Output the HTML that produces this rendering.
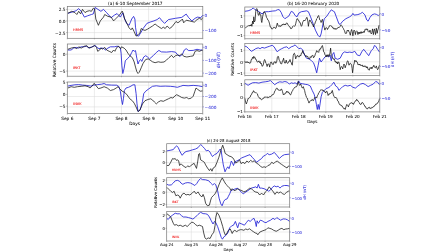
<!DOCTYPE html>
<html><head><meta charset="utf-8"><style>html,body{margin:0;padding:0;background:#fff;overflow:hidden}svg{display:block}</style></head>
<body><svg width="448" height="252" viewBox="0 0 448 252" font-family='"DejaVu Sans","Liberation Sans",sans-serif' text-rendering="geometricPrecision"><line x1="94.40" y1="6.50" x2="94.40" y2="38.30" stroke="#d8d8d8" stroke-width="0.5"/>
<line x1="121.50" y1="6.50" x2="121.50" y2="38.30" stroke="#d8d8d8" stroke-width="0.5"/>
<line x1="148.60" y1="6.50" x2="148.60" y2="38.30" stroke="#d8d8d8" stroke-width="0.5"/>
<line x1="175.70" y1="6.50" x2="175.70" y2="38.30" stroke="#d8d8d8" stroke-width="0.5"/>
<line x1="67.30" y1="9.40" x2="202.80" y2="9.40" stroke="#d8d8d8" stroke-width="0.5"/>
<line x1="67.30" y1="20.90" x2="202.80" y2="20.90" stroke="#d8d8d8" stroke-width="0.5"/>
<line x1="67.30" y1="32.60" x2="202.80" y2="32.60" stroke="#d8d8d8" stroke-width="0.5"/>
<polyline points="67.9,13.3 72.3,12.0 76.2,10.7 78.7,8.6 81.2,11.3 84.4,17.1 87.6,15.8 91.4,14.5 93.3,13.9 95.2,7.5 99.0,10.1 100.9,11.3 103.5,9.4 106.6,12.6 111.1,17.7 114.3,15.2 117.1,13.6 120.3,17.1 122.8,12.9 124.1,17.7 126.6,23.4 129.1,25.3 131.7,19.0 133.6,16.4 134.9,19.0 135.5,27.2 136.8,35.5 138.7,36.1 140.6,32.9 141.8,31.0 143.1,28.5 145.0,26.0 146.9,23.4 150.1,22.1 153.9,20.9 157.1,19.6 159.5,17.7 162.1,20.9 164.6,23.4 168.4,19.6 175.4,18.3 181.7,17.4 186.2,14.1 188.7,17.7 191.9,20.9 195.1,18.3 197.6,17.1 200.8,17.7 202.7,15.2" fill="none" stroke="#2222d6" stroke-width="0.85" stroke-linejoin="round"/>
<polyline points="67.9,13.3 71.7,11.3 74.9,12.6 76.8,14.5 78.7,11.3 80.6,13.9 82.5,9.4 85.0,12.6 87.0,11.3 89.5,10.7 91.4,11.3 93.3,8.2 94.6,8.8 95.8,19.0 98.4,25.3 100.3,20.9 103.5,17.1 104.7,14.5 107.9,16.4 111.1,17.1 113.6,20.9 116.2,18.3 119.3,15.2 122.2,11.1 123.4,13.9 124.7,19.0 127.2,24.0 129.1,27.9 131.0,29.8 132.3,27.9 134.2,31.7 136.1,36.1 138.0,34.8 139.9,32.9 141.2,28.5 143.1,29.8 145.0,30.4 147.6,29.1 149.5,27.9 152.5,26.0 155.1,24.0 157.6,26.0 161.4,28.5 163.3,27.2 165.2,28.5 167.1,26.0 169.7,28.5 172.2,26.6 174.1,24.0 176.0,21.5 177.9,22.8 180.5,20.9 182.4,19.0 183.7,22.8 186.2,20.2 189.4,20.9 191.9,21.5 194.4,22.1 197.0,19.6 199.5,18.3 201.4,19.6 202.7,17.7" fill="none" stroke="#111111" stroke-width="0.75" stroke-linejoin="round"/>
<rect x="67.30" y="6.50" width="135.50" height="31.80" fill="none" stroke="#777777" stroke-width="0.7"/>
<line x1="66.10" y1="9.40" x2="67.30" y2="9.40" stroke="#777777" stroke-width="0.5"/>
<text x="65.50" y="11.00" font-size="4.3" fill="#000" stroke="#000" stroke-width="0.04" text-anchor="end" >2.5</text>
<line x1="66.10" y1="20.90" x2="67.30" y2="20.90" stroke="#777777" stroke-width="0.5"/>
<text x="65.50" y="23.00" font-size="4.3" fill="#000" stroke="#000" stroke-width="0.04" text-anchor="end" >0.0</text>
<line x1="66.10" y1="32.60" x2="67.30" y2="32.60" stroke="#777777" stroke-width="0.5"/>
<text x="65.50" y="35.00" font-size="4.3" fill="#000" stroke="#000" stroke-width="0.04" text-anchor="end" >−2.5</text>
<line x1="202.80" y1="15.50" x2="204.00" y2="15.50" stroke="#5050d0" stroke-width="0.5"/>
<text x="204.60" y="17.00" font-size="4.3" fill="#2a2ad8" stroke="#2a2ad8" stroke-width="0.04" text-anchor="start" >0</text>
<line x1="202.80" y1="30.50" x2="204.00" y2="30.50" stroke="#5050d0" stroke-width="0.5"/>
<text x="204.60" y="32.00" font-size="4.3" fill="#2a2ad8" stroke="#2a2ad8" stroke-width="0.04" text-anchor="start" >−100</text>
<line x1="67.30" y1="38.30" x2="67.30" y2="39.30" stroke="#777777" stroke-width="0.5"/>
<line x1="94.40" y1="38.30" x2="94.40" y2="39.30" stroke="#777777" stroke-width="0.5"/>
<line x1="121.50" y1="38.30" x2="121.50" y2="39.30" stroke="#777777" stroke-width="0.5"/>
<line x1="148.60" y1="38.30" x2="148.60" y2="39.30" stroke="#777777" stroke-width="0.5"/>
<line x1="175.70" y1="38.30" x2="175.70" y2="39.30" stroke="#777777" stroke-width="0.5"/>
<line x1="202.80" y1="38.30" x2="202.80" y2="39.30" stroke="#777777" stroke-width="0.5"/>
<text x="73.00" y="31.00" font-size="3.5" fill="#ee0000" stroke="#ee0000" stroke-width="0.04" text-anchor="start" >HRMS</text>
<line x1="94.40" y1="44.00" x2="94.40" y2="76.20" stroke="#d8d8d8" stroke-width="0.5"/>
<line x1="121.50" y1="44.00" x2="121.50" y2="76.20" stroke="#d8d8d8" stroke-width="0.5"/>
<line x1="148.60" y1="44.00" x2="148.60" y2="76.20" stroke="#d8d8d8" stroke-width="0.5"/>
<line x1="175.70" y1="44.00" x2="175.70" y2="76.20" stroke="#d8d8d8" stroke-width="0.5"/>
<line x1="67.30" y1="54.20" x2="202.80" y2="54.20" stroke="#d8d8d8" stroke-width="0.5"/>
<line x1="67.30" y1="71.10" x2="202.80" y2="71.10" stroke="#d8d8d8" stroke-width="0.5"/>
<polyline points="67.9,50.0 71.1,50.0 73.6,48.1 76.2,47.4 78.7,48.1 81.2,46.8 83.8,46.8 86.3,46.2 88.9,47.8 91.4,47.1 95.2,45.5 97.1,47.4 99.0,48.7 100.9,48.1 103.5,48.3 105.4,50.0 107.9,48.1 110.4,46.8 114.3,46.8 117.1,46.2 119.0,46.8 120.3,48.1 121.1,53.2 121.9,65.9 122.8,73.5 124.1,68.4 125.3,60.8 127.2,58.9 129.8,56.3 131.7,52.5 133.0,50.0 134.2,51.3 135.5,50.6 136.8,58.2 138.0,64.0 139.3,60.8 140.6,59.5 141.8,61.4 143.7,57.0 145.7,55.7 147.6,57.0 149.5,58.9 153.2,55.7 156.3,52.5 158.9,50.4 161.4,51.9 166.5,52.1 171.6,51.6 175.4,52.1 177.3,54.4 179.8,56.3 182.4,54.4 184.3,50.0 186.2,48.7 188.7,50.6 193.2,50.4 197.0,49.3 200.2,50.0 202.7,50.0" fill="none" stroke="#2222d6" stroke-width="0.85" stroke-linejoin="round"/>
<polyline points="67.9,49.3 71.1,48.1 74.3,47.4 76.8,48.7 78.7,46.8 81.2,48.1 84.4,46.2 87.0,45.8 88.9,48.1 91.4,47.4 94.6,45.5 96.5,47.4 97.7,51.3 99.7,50.0 100.9,48.1 102.8,49.1 104.7,47.4 106.6,50.0 109.2,51.3 111.7,52.5 113.6,50.0 114.9,51.3 116.8,47.4 118.7,46.2 120.6,48.7 121.5,46.8 124.1,48.1 126.0,50.0 127.9,53.2 129.8,55.7 132.3,57.6 134.2,62.0 135.5,67.1 136.8,71.6 138.0,73.5 139.3,72.2 141.2,67.8 143.1,63.3 145.7,59.5 148.2,58.9 150.1,60.1 152.5,61.8 155.1,62.7 158.3,61.8 160.8,62.3 164.0,62.0 166.5,60.1 169.0,57.6 171.6,55.4 173.5,57.6 175.4,55.7 177.3,55.1 179.8,55.7 181.7,53.8 183.7,56.3 186.8,57.0 190.6,56.3 193.2,55.9 195.1,51.3 197.0,50.6 199.5,51.3 201.4,50.4 202.7,50.6" fill="none" stroke="#111111" stroke-width="0.75" stroke-linejoin="round"/>
<rect x="67.30" y="44.00" width="135.50" height="32.20" fill="none" stroke="#777777" stroke-width="0.7"/>
<line x1="66.10" y1="54.20" x2="67.30" y2="54.20" stroke="#777777" stroke-width="0.5"/>
<text x="65.50" y="56.00" font-size="4.3" fill="#000" stroke="#000" stroke-width="0.04" text-anchor="end" >0</text>
<line x1="66.10" y1="71.10" x2="67.30" y2="71.10" stroke="#777777" stroke-width="0.5"/>
<text x="65.50" y="73.00" font-size="4.3" fill="#000" stroke="#000" stroke-width="0.04" text-anchor="end" >−5</text>
<line x1="202.80" y1="47.30" x2="204.00" y2="47.30" stroke="#5050d0" stroke-width="0.5"/>
<text x="204.60" y="49.00" font-size="4.3" fill="#2a2ad8" stroke="#2a2ad8" stroke-width="0.04" text-anchor="start" >0</text>
<line x1="202.80" y1="60.40" x2="204.00" y2="60.40" stroke="#5050d0" stroke-width="0.5"/>
<text x="204.60" y="62.00" font-size="4.3" fill="#2a2ad8" stroke="#2a2ad8" stroke-width="0.04" text-anchor="start" >−100</text>
<line x1="202.80" y1="73.10" x2="204.00" y2="73.10" stroke="#5050d0" stroke-width="0.5"/>
<text x="204.60" y="75.00" font-size="4.3" fill="#2a2ad8" stroke="#2a2ad8" stroke-width="0.04" text-anchor="start" >−200</text>
<line x1="67.30" y1="76.20" x2="67.30" y2="77.20" stroke="#777777" stroke-width="0.5"/>
<line x1="94.40" y1="76.20" x2="94.40" y2="77.20" stroke="#777777" stroke-width="0.5"/>
<line x1="121.50" y1="76.20" x2="121.50" y2="77.20" stroke="#777777" stroke-width="0.5"/>
<line x1="148.60" y1="76.20" x2="148.60" y2="77.20" stroke="#777777" stroke-width="0.5"/>
<line x1="175.70" y1="76.20" x2="175.70" y2="77.20" stroke="#777777" stroke-width="0.5"/>
<line x1="202.80" y1="76.20" x2="202.80" y2="77.20" stroke="#777777" stroke-width="0.5"/>
<text x="72.90" y="69.00" font-size="3.5" fill="#ee0000" stroke="#ee0000" stroke-width="0.04" text-anchor="start" >IRKT</text>
<line x1="94.40" y1="82.00" x2="94.40" y2="113.60" stroke="#d8d8d8" stroke-width="0.5"/>
<line x1="121.50" y1="82.00" x2="121.50" y2="113.60" stroke="#d8d8d8" stroke-width="0.5"/>
<line x1="148.60" y1="82.00" x2="148.60" y2="113.60" stroke="#d8d8d8" stroke-width="0.5"/>
<line x1="175.70" y1="82.00" x2="175.70" y2="113.60" stroke="#d8d8d8" stroke-width="0.5"/>
<line x1="67.30" y1="85.20" x2="202.80" y2="85.20" stroke="#d8d8d8" stroke-width="0.5"/>
<line x1="67.30" y1="96.50" x2="202.80" y2="96.50" stroke="#d8d8d8" stroke-width="0.5"/>
<line x1="67.30" y1="106.90" x2="202.80" y2="106.90" stroke="#d8d8d8" stroke-width="0.5"/>
<polyline points="67.9,86.1 71.1,85.4 74.9,84.8 78.7,84.6 82.5,85.1 86.3,85.4 90.8,86.1 93.9,85.1 97.7,84.6 101.6,84.2 104.1,83.5 106.6,84.8 111.7,85.1 116.8,85.2 119.0,86.7 120.3,91.2 121.5,99.4 122.5,104.5 123.4,98.8 124.4,90.5 126.0,88.0 128.5,87.3 131.0,86.1 133.0,84.8 134.9,84.8 136.1,93.7 137.0,103.9 138.0,111.5 139.9,110.2 141.2,106.4 142.5,101.3 143.7,93.7 145.7,91.2 148.2,89.3 150.0,88.0 152.5,86.3 156.3,85.8 160.2,86.3 165.2,86.1 170.3,86.3 174.1,86.7 177.3,87.3 180.5,86.3 183.0,85.4 188.1,85.8 193.2,85.4 198.3,85.8 202.7,86.7" fill="none" stroke="#2222d6" stroke-width="0.85" stroke-linejoin="round"/>
<polyline points="67.9,88.0 71.1,86.7 74.3,87.3 77.4,86.7 81.2,86.3 85.0,85.8 88.2,86.7 90.1,88.0 92.0,86.1 94.2,83.3 95.8,85.4 98.4,88.6 100.9,88.0 104.1,86.7 107.3,88.0 110.4,90.5 113.6,89.6 116.2,88.0 118.1,86.7 119.6,88.6 122.2,91.2 124.7,92.4 127.2,95.0 129.8,98.8 132.3,100.7 134.2,103.2 136.1,107.0 138.0,111.5 139.9,110.2 142.5,103.9 145.0,100.7 148.2,99.4 150.7,98.8 152.5,100.0 154.4,102.0 156.3,103.9 158.3,102.0 160.8,100.7 163.3,101.3 165.9,100.0 168.4,98.8 171.0,97.5 172.9,98.1 174.8,96.0 176.7,94.7 179.2,96.0 181.7,97.5 184.3,98.1 186.8,97.5 188.7,98.8 191.3,98.1 193.2,96.2 194.7,91.8 196.0,88.0 197.6,89.3 200.2,91.2 202.7,90.9" fill="none" stroke="#111111" stroke-width="0.75" stroke-linejoin="round"/>
<rect x="67.30" y="82.00" width="135.50" height="31.60" fill="none" stroke="#777777" stroke-width="0.7"/>
<line x1="66.10" y1="82.30" x2="67.30" y2="82.30" stroke="#777777" stroke-width="0.5"/>
<text x="65.50" y="84.00" font-size="4.3" fill="#000" stroke="#000" stroke-width="0.04" text-anchor="end" >5</text>
<line x1="66.10" y1="94.40" x2="67.30" y2="94.40" stroke="#777777" stroke-width="0.5"/>
<text x="65.50" y="96.00" font-size="4.3" fill="#000" stroke="#000" stroke-width="0.04" text-anchor="end" >0</text>
<line x1="66.10" y1="106.20" x2="67.30" y2="106.20" stroke="#777777" stroke-width="0.5"/>
<text x="65.50" y="108.00" font-size="4.3" fill="#000" stroke="#000" stroke-width="0.04" text-anchor="end" >−5</text>
<line x1="202.80" y1="85.20" x2="204.00" y2="85.20" stroke="#5050d0" stroke-width="0.5"/>
<text x="204.60" y="87.00" font-size="4.3" fill="#2a2ad8" stroke="#2a2ad8" stroke-width="0.04" text-anchor="start" >0</text>
<line x1="202.80" y1="96.50" x2="204.00" y2="96.50" stroke="#5050d0" stroke-width="0.5"/>
<text x="204.60" y="98.00" font-size="4.3" fill="#2a2ad8" stroke="#2a2ad8" stroke-width="0.04" text-anchor="start" >−200</text>
<line x1="202.80" y1="106.90" x2="204.00" y2="106.90" stroke="#5050d0" stroke-width="0.5"/>
<text x="204.60" y="109.00" font-size="4.3" fill="#2a2ad8" stroke="#2a2ad8" stroke-width="0.04" text-anchor="start" >−400</text>
<line x1="67.30" y1="113.60" x2="67.30" y2="114.60" stroke="#777777" stroke-width="0.5"/>
<line x1="94.40" y1="113.60" x2="94.40" y2="114.60" stroke="#777777" stroke-width="0.5"/>
<line x1="121.50" y1="113.60" x2="121.50" y2="114.60" stroke="#777777" stroke-width="0.5"/>
<line x1="148.60" y1="113.60" x2="148.60" y2="114.60" stroke="#777777" stroke-width="0.5"/>
<line x1="175.70" y1="113.60" x2="175.70" y2="114.60" stroke="#777777" stroke-width="0.5"/>
<line x1="202.80" y1="113.60" x2="202.80" y2="114.60" stroke="#777777" stroke-width="0.5"/>
<text x="73.20" y="105.00" font-size="3.5" fill="#ee0000" stroke="#ee0000" stroke-width="0.04" text-anchor="start" >INVK</text>
<text x="67.30" y="120.00" font-size="4.3" fill="#000" stroke="#000" stroke-width="0.04" text-anchor="middle" >Sep 6</text>
<text x="94.40" y="120.00" font-size="4.3" fill="#000" stroke="#000" stroke-width="0.04" text-anchor="middle" >Sep 7</text>
<text x="121.50" y="120.00" font-size="4.3" fill="#000" stroke="#000" stroke-width="0.04" text-anchor="middle" >Sep 8</text>
<text x="148.60" y="120.00" font-size="4.3" fill="#000" stroke="#000" stroke-width="0.04" text-anchor="middle" >Sep 9</text>
<text x="175.70" y="120.00" font-size="4.3" fill="#000" stroke="#000" stroke-width="0.04" text-anchor="middle" >Sep 10</text>
<text x="202.80" y="120.00" font-size="4.3" fill="#000" stroke="#000" stroke-width="0.04" text-anchor="middle" >Sep 11</text>
<text x="135.35" y="5.00" font-size="4.3" fill="#000" stroke="#000" stroke-width="0.04" text-anchor="middle" >(a) 6-10 September 2017</text>
<text x="134.60" y="125.00" font-size="4.3" fill="#000" stroke="#000" stroke-width="0.04" text-anchor="middle" >Days</text>
<text x="0" y="0" transform="translate(55.20,60.10) rotate(-90)" font-size="4.386" fill="#000" stroke="#000" stroke-width="0.04" text-anchor="middle" dominant-baseline="central" >Relative Counts</text>
<text x="0" y="0" transform="translate(219.20,60.10) rotate(-90)" font-size="4.386" fill="#2a2ad8" stroke="#2a2ad8" stroke-width="0.04" text-anchor="middle" dominant-baseline="central" >dH (nT)</text>
<line x1="271.80" y1="7.00" x2="271.80" y2="38.80" stroke="#d8d8d8" stroke-width="0.5"/>
<line x1="298.80" y1="7.00" x2="298.80" y2="38.80" stroke="#d8d8d8" stroke-width="0.5"/>
<line x1="325.80" y1="7.00" x2="325.80" y2="38.80" stroke="#d8d8d8" stroke-width="0.5"/>
<line x1="352.80" y1="7.00" x2="352.80" y2="38.80" stroke="#d8d8d8" stroke-width="0.5"/>
<line x1="244.80" y1="15.90" x2="379.80" y2="15.90" stroke="#d8d8d8" stroke-width="0.5"/>
<line x1="244.80" y1="25.90" x2="379.80" y2="25.90" stroke="#d8d8d8" stroke-width="0.5"/>
<line x1="244.80" y1="35.60" x2="379.80" y2="35.60" stroke="#d8d8d8" stroke-width="0.5"/>
<polyline points="244.9,11.3 248.1,10.8 251.3,9.6 253.2,7.9 255.1,9.8 257.0,10.4 259.5,12.1 262.0,13.9 264.0,12.3 265.9,11.7 268.4,11.7 272.2,11.1 275.4,10.8 277.3,9.8 279.2,9.6 281.1,12.3 283.0,16.8 284.9,18.7 286.8,17.4 288.7,16.2 291.3,11.3 293.2,12.3 295.1,15.5 297.0,16.8 298.9,13.0 301.4,11.7 304.0,11.3 306.5,10.8 308.4,11.7 310.3,16.2 312.9,23.1 315.4,30.1 317.9,35.2 319.8,37.1 321.1,33.9 322.8,25.0 324.3,18.7 326.8,16.2 329.4,12.3 331.3,9.8 333.2,11.1 334.4,11.7 336.3,16.8 338.9,23.8 340.2,24.4 342.7,21.2 345.9,18.7 349.7,16.8 351.6,15.5 352.9,13.4 354.1,15.1 357.9,14.6 360.5,13.6 362.4,12.3 364.9,14.9 366.8,20.0 368.1,21.2 370.0,17.4 371.9,14.9 374.4,13.9 376.3,14.3 378.3,15.5 379.5,14.6" fill="none" stroke="#2222d6" stroke-width="0.85" stroke-linejoin="round"/>
<polyline points="244.9,28.2 245.5,27.7 246.2,27.2 246.8,26.8 247.4,26.3 248.1,26.0 248.7,25.6 249.3,26.0 250.0,25.0 250.6,26.0 251.3,24.3 251.9,26.3 252.6,21.0 253.2,24.0 253.8,16.8 254.4,22.0 255.1,20.6 255.7,11.7 256.2,9.2 256.7,8.5 257.1,8.9 257.6,11.1 258.2,14.9 258.9,15.4 259.5,12.3 260.1,14.8 260.8,14.9 261.3,20.3 261.8,22.5 262.7,16.2 263.4,13.5 264.0,11.7 264.6,11.8 265.2,13.0 265.9,14.9 266.5,17.4 267.1,18.1 267.8,20.0 268.4,20.3 269.0,21.9 269.6,23.9 270.3,27.0 270.9,27.0 271.6,28.9 272.2,28.9 272.8,28.7 273.5,27.4 274.1,27.6 274.7,27.3 275.4,28.4 276.0,28.2 276.6,25.9 277.3,23.1 278.0,25.4 278.6,26.3 279.2,26.6 279.9,25.4 280.5,26.5 281.1,25.7 281.7,25.8 282.4,24.0 283.0,24.7 283.6,23.8 284.2,24.9 284.9,24.1 285.5,25.0 286.1,23.3 286.8,23.1 287.4,23.3 288.1,25.1 288.7,25.7 289.4,26.7 290.0,26.8 290.6,28.6 291.3,28.6 291.9,28.3 292.6,26.5 293.2,26.3 293.8,25.7 294.5,26.4 295.1,25.7 295.7,23.8 296.4,20.6 297.0,18.7 297.6,18.8 298.3,20.5 298.9,20.6 299.5,22.3 300.2,22.5 300.8,25.0 301.4,26.3 302.0,25.3 302.7,22.2 303.3,21.2 303.9,20.1 304.6,21.0 305.2,20.0 305.8,19.5 306.5,17.6 307.1,17.4 307.8,21.1 308.4,26.3 309.0,22.4 309.7,20.0 310.3,20.3 311.0,22.3 311.6,22.5 312.2,24.4 312.9,24.8 313.5,27.0 314.1,24.8 314.8,24.0 315.4,21.9 316.0,20.9 316.7,18.7 317.3,18.1 318.0,16.1 318.6,15.5 319.2,17.5 319.8,20.0 320.5,20.6 321.1,22.5 321.8,20.4 322.4,19.3 323.0,22.2 323.7,25.7 324.3,27.5 324.9,30.1 325.5,28.2 326.2,27.6 326.9,27.9 327.5,29.5 328.1,28.0 328.8,27.5 329.4,25.7 330.0,26.2 330.7,25.5 331.3,26.3 331.9,26.3 332.6,27.9 333.2,27.6 333.8,29.0 334.5,28.4 335.1,29.5 335.7,28.4 336.4,29.3 337.0,28.2 337.6,28.2 338.2,27.3 338.9,27.7 339.5,27.0 340.1,26.7 340.6,25.2 341.2,25.0 341.9,25.7 342.7,27.6 343.3,28.3 344.0,30.0 344.6,30.8 345.2,33.4 345.9,33.3 346.5,33.3 347.2,30.2 347.8,30.8 348.4,30.0 349.0,32.0 349.6,32.7 350.3,35.2 351.0,31.4 351.6,29.5 352.2,31.6 352.9,35.8 353.5,31.8 354.1,30.1 354.8,31.3 355.4,34.6 356.0,31.6 356.7,30.8 357.3,31.6 357.9,34.6 358.5,32.3 359.2,33.9 359.8,32.0 360.4,33.4 361.1,31.6 361.7,33.3 362.4,31.9 363.0,32.8 363.7,31.4 364.3,32.4 365.0,29.5 365.6,30.1 366.2,28.7 366.9,29.8 367.5,28.9 368.1,31.4 368.7,32.0 369.4,32.1 370.0,30.1 370.6,32.5 371.3,33.9 371.9,32.5 372.5,28.9 373.4,34.6 373.9,30.6 374.4,28.9 374.9,31.2 375.5,34.6 376.3,28.2 377.2,33.3 377.8,30.0 378.3,28.9 378.9,25.7 379.5,25.0" fill="none" stroke="#111111" stroke-width="0.75" stroke-linejoin="round"/>
<rect x="244.80" y="7.00" width="135.00" height="31.80" fill="none" stroke="#777777" stroke-width="0.7"/>
<line x1="243.60" y1="15.90" x2="244.80" y2="15.90" stroke="#777777" stroke-width="0.5"/>
<text x="243.00" y="18.00" font-size="4.15" fill="#000" stroke="#000" stroke-width="0.04" text-anchor="end" >1</text>
<line x1="243.60" y1="25.90" x2="244.80" y2="25.90" stroke="#777777" stroke-width="0.5"/>
<text x="243.00" y="28.00" font-size="4.15" fill="#000" stroke="#000" stroke-width="0.04" text-anchor="end" >0</text>
<line x1="243.60" y1="35.60" x2="244.80" y2="35.60" stroke="#777777" stroke-width="0.5"/>
<text x="243.00" y="37.00" font-size="4.15" fill="#000" stroke="#000" stroke-width="0.04" text-anchor="end" >−1</text>
<line x1="379.80" y1="13.70" x2="381.00" y2="13.70" stroke="#5050d0" stroke-width="0.5"/>
<text x="381.60" y="16.00" font-size="4.15" fill="#2a2ad8" stroke="#2a2ad8" stroke-width="0.04" text-anchor="start" >0</text>
<line x1="379.80" y1="29.90" x2="381.00" y2="29.90" stroke="#5050d0" stroke-width="0.5"/>
<text x="381.60" y="32.00" font-size="4.15" fill="#2a2ad8" stroke="#2a2ad8" stroke-width="0.04" text-anchor="start" >−50</text>
<line x1="244.80" y1="38.80" x2="244.80" y2="39.80" stroke="#777777" stroke-width="0.5"/>
<line x1="271.80" y1="38.80" x2="271.80" y2="39.80" stroke="#777777" stroke-width="0.5"/>
<line x1="298.80" y1="38.80" x2="298.80" y2="39.80" stroke="#777777" stroke-width="0.5"/>
<line x1="325.80" y1="38.80" x2="325.80" y2="39.80" stroke="#777777" stroke-width="0.5"/>
<line x1="352.80" y1="38.80" x2="352.80" y2="39.80" stroke="#777777" stroke-width="0.5"/>
<line x1="379.80" y1="38.80" x2="379.80" y2="39.80" stroke="#777777" stroke-width="0.5"/>
<text x="250.00" y="34.00" font-size="3.5" fill="#ee0000" stroke="#ee0000" stroke-width="0.04" text-anchor="start" >HRMS</text>
<line x1="271.80" y1="43.40" x2="271.80" y2="75.40" stroke="#d8d8d8" stroke-width="0.5"/>
<line x1="298.80" y1="43.40" x2="298.80" y2="75.40" stroke="#d8d8d8" stroke-width="0.5"/>
<line x1="325.80" y1="43.40" x2="325.80" y2="75.40" stroke="#d8d8d8" stroke-width="0.5"/>
<line x1="352.80" y1="43.40" x2="352.80" y2="75.40" stroke="#d8d8d8" stroke-width="0.5"/>
<line x1="244.80" y1="50.30" x2="379.80" y2="50.30" stroke="#d8d8d8" stroke-width="0.5"/>
<line x1="244.80" y1="61.80" x2="379.80" y2="61.80" stroke="#d8d8d8" stroke-width="0.5"/>
<line x1="244.80" y1="73.10" x2="379.80" y2="73.10" stroke="#d8d8d8" stroke-width="0.5"/>
<polyline points="244.9,46.2 246.8,46.8 248.7,48.7 251.3,51.3 253.2,50.4 255.7,48.7 258.2,47.8 260.1,48.7 262.0,47.4 264.6,48.1 267.1,47.1 269.7,46.2 272.2,45.3 274.1,46.8 276.0,50.0 277.3,51.9 279.2,50.0 281.7,48.7 284.3,47.4 286.8,46.8 288.7,48.7 291.3,46.8 293.2,46.2 295.1,44.9 297.0,46.8 298.9,48.7 300.8,48.1 302.7,50.0 304.6,55.1 306.5,58.2 309.0,58.9 311.6,60.8 313.5,62.7 315.1,67.1 316.7,72.8 318.2,65.2 319.5,58.2 321.1,62.0 323.0,59.5 324.9,57.0 326.8,55.7 328.7,57.0 330.0,55.1 331.3,60.8 332.5,54.4 333.8,52.5 335.1,58.2 337.6,59.3 340.2,58.2 342.7,53.2 344.6,51.9 347.1,52.5 349.7,52.1 352.2,52.5 354.8,51.3 357.3,55.1 359.8,55.7 361.7,51.9 363.7,49.3 366.2,52.5 368.7,55.7 371.3,50.6 373.2,48.7 374.4,45.5 375.7,46.2 377.6,49.3 379.5,52.1" fill="none" stroke="#2222d6" stroke-width="0.85" stroke-linejoin="round"/>
<polyline points="244.9,61.4 245.5,62.5 246.2,61.7 246.8,62.7 247.4,61.7 248.1,62.8 248.7,62.0 249.3,63.2 250.0,63.3 250.6,62.8 251.3,59.5 251.9,59.5 252.5,57.3 253.2,58.5 253.8,56.3 254.4,58.0 255.1,57.5 255.7,59.5 256.3,59.6 257.0,61.8 257.6,62.0 258.2,61.9 258.9,60.8 259.5,62.5 260.2,61.6 260.8,64.0 261.4,63.4 262.1,66.4 262.7,65.9 263.3,64.9 264.0,61.0 264.6,59.5 265.2,60.7 265.9,63.3 266.5,63.9 267.1,66.5 267.8,64.1 268.4,64.0 269.0,64.3 269.7,67.1 270.3,63.3 270.9,62.0 271.5,62.1 272.2,64.3 272.8,64.0 273.4,64.4 274.1,61.8 274.7,62.0 275.2,61.6 275.8,63.3 276.3,62.7 276.8,61.1 277.4,57.1 277.9,56.3 278.5,56.6 279.2,60.2 279.8,60.8 280.5,63.1 281.1,64.0 281.8,63.7 282.4,60.8 283.0,60.5 283.6,58.2 284.2,62.0 284.9,63.3 285.5,62.9 286.2,60.1 286.8,62.6 287.4,63.3 288.0,63.2 288.7,61.4 289.4,61.4 290.0,59.5 290.6,61.9 291.3,62.7 291.8,64.5 292.3,65.2 293.2,55.7 293.8,53.7 294.4,53.2 295.0,54.9 295.7,58.9 296.4,56.8 297.0,55.7 297.6,55.4 298.3,57.1 298.9,56.3 299.5,56.8 300.2,55.0 300.8,55.7 301.4,53.1 302.1,53.1 302.7,50.6 303.4,53.2 304.0,53.2 304.6,54.8 305.2,55.1 305.8,56.6 306.5,55.7 307.1,57.0 307.7,56.4 308.4,58.5 309.0,58.2 309.7,58.8 310.3,56.7 311.0,57.6 311.6,55.9 312.2,55.7 312.8,55.2 313.5,57.8 314.1,57.0 314.8,55.9 315.4,53.8 316.0,52.7 316.7,50.6 317.4,51.9 318.2,51.9 318.7,52.4 319.3,49.6 319.8,50.0 320.4,48.3 320.9,48.6 321.5,46.8 322.4,45.5 323.0,48.1 323.7,51.9 324.3,52.3 325.0,54.9 325.6,55.7 326.2,57.0 326.9,54.8 327.5,56.3 328.1,54.6 328.8,56.6 329.4,55.1 330.0,52.9 330.6,48.1 331.3,55.7 331.9,56.5 332.5,58.2 333.1,58.1 333.8,59.5 334.4,58.8 335.1,61.9 335.7,61.4 336.3,63.1 337.0,61.8 337.6,64.0 338.2,62.0 338.9,62.0 339.5,64.7 340.2,69.7 340.8,67.4 341.4,66.5 342.0,67.1 342.7,69.0 343.4,65.7 344.0,64.0 344.6,65.3 345.2,67.8 345.9,65.4 346.5,64.6 347.1,61.4 347.8,60.8 348.4,62.3 349.0,65.2 349.6,63.8 350.3,63.3 351.0,63.8 351.6,65.2 352.1,68.4 352.6,72.8 353.5,65.2 354.1,63.8 354.8,60.1 355.4,61.5 356.1,60.7 356.7,62.0 357.3,62.1 358.0,64.7 358.6,64.0 359.2,65.1 359.9,64.0 360.5,65.4 361.1,65.2 361.8,65.9 362.4,64.9 363.1,66.8 363.7,65.9 364.3,66.6 364.9,65.7 365.6,67.2 366.2,66.5 366.8,68.0 367.4,66.8 368.1,69.5 368.7,69.7 369.3,70.2 370.0,67.7 370.6,68.4 371.2,67.1 371.9,68.9 372.5,67.1 373.1,67.0 373.8,65.2 374.5,67.2 375.1,67.8 375.7,67.7 376.3,65.9 377.0,68.3 377.6,69.7 378.2,68.9 378.9,66.5 379.5,65.2" fill="none" stroke="#111111" stroke-width="0.75" stroke-linejoin="round"/>
<rect x="244.80" y="43.40" width="135.00" height="32.00" fill="none" stroke="#777777" stroke-width="0.7"/>
<line x1="243.60" y1="50.30" x2="244.80" y2="50.30" stroke="#777777" stroke-width="0.5"/>
<text x="243.00" y="52.00" font-size="4.15" fill="#000" stroke="#000" stroke-width="0.04" text-anchor="end" >1</text>
<line x1="243.60" y1="61.80" x2="244.80" y2="61.80" stroke="#777777" stroke-width="0.5"/>
<text x="243.00" y="64.00" font-size="4.15" fill="#000" stroke="#000" stroke-width="0.04" text-anchor="end" >0</text>
<line x1="243.60" y1="73.10" x2="244.80" y2="73.10" stroke="#777777" stroke-width="0.5"/>
<text x="243.00" y="75.00" font-size="4.15" fill="#000" stroke="#000" stroke-width="0.04" text-anchor="end" >−1</text>
<line x1="379.80" y1="47.60" x2="381.00" y2="47.60" stroke="#5050d0" stroke-width="0.5"/>
<text x="381.60" y="49.00" font-size="4.15" fill="#2a2ad8" stroke="#2a2ad8" stroke-width="0.04" text-anchor="start" >0</text>
<line x1="379.80" y1="66.40" x2="381.00" y2="66.40" stroke="#5050d0" stroke-width="0.5"/>
<text x="381.60" y="68.00" font-size="4.15" fill="#2a2ad8" stroke="#2a2ad8" stroke-width="0.04" text-anchor="start" >−50</text>
<line x1="244.80" y1="75.40" x2="244.80" y2="76.40" stroke="#777777" stroke-width="0.5"/>
<line x1="271.80" y1="75.40" x2="271.80" y2="76.40" stroke="#777777" stroke-width="0.5"/>
<line x1="298.80" y1="75.40" x2="298.80" y2="76.40" stroke="#777777" stroke-width="0.5"/>
<line x1="325.80" y1="75.40" x2="325.80" y2="76.40" stroke="#777777" stroke-width="0.5"/>
<line x1="352.80" y1="75.40" x2="352.80" y2="76.40" stroke="#777777" stroke-width="0.5"/>
<line x1="379.80" y1="75.40" x2="379.80" y2="76.40" stroke="#777777" stroke-width="0.5"/>
<text x="250.30" y="71.00" font-size="3.5" fill="#ee0000" stroke="#ee0000" stroke-width="0.04" text-anchor="start" >IRKT</text>
<line x1="271.80" y1="79.80" x2="271.80" y2="111.90" stroke="#d8d8d8" stroke-width="0.5"/>
<line x1="298.80" y1="79.80" x2="298.80" y2="111.90" stroke="#d8d8d8" stroke-width="0.5"/>
<line x1="325.80" y1="79.80" x2="325.80" y2="111.90" stroke="#d8d8d8" stroke-width="0.5"/>
<line x1="352.80" y1="79.80" x2="352.80" y2="111.90" stroke="#d8d8d8" stroke-width="0.5"/>
<line x1="244.80" y1="83.60" x2="379.80" y2="83.60" stroke="#d8d8d8" stroke-width="0.5"/>
<line x1="244.80" y1="98.20" x2="379.80" y2="98.20" stroke="#d8d8d8" stroke-width="0.5"/>
<polyline points="244.9,83.4 246.2,84.1 248.1,85.3 250.0,84.1 252.5,82.8 255.7,82.6 258.9,83.1 262.0,82.2 265.2,81.8 268.4,81.3 270.3,80.5 272.2,82.2 274.7,84.7 277.3,82.8 279.8,81.8 282.4,82.2 284.9,81.5 287.4,82.2 289.3,84.1 291.3,82.8 293.2,83.4 295.1,82.8 297.0,84.1 298.6,80.9 300.2,83.4 302.7,83.8 305.2,84.3 307.8,84.7 310.3,86.0 312.2,90.4 314.1,94.2 315.4,98.7 316.4,104.4 317.3,109.5 318.2,104.4 319.2,109.5 320.2,103.1 321.1,96.8 322.4,92.3 324.3,90.4 326.2,88.5 328.1,87.9 330.0,86.6 331.9,84.7 333.8,82.2 335.7,86.0 337.6,87.3 338.9,90.4 340.8,88.5 342.7,86.6 345.2,85.3 347.8,86.0 350.3,85.3 352.9,87.3 355.4,88.1 357.9,86.0 360.5,84.1 363.0,83.4 365.6,84.7 368.1,86.6 370.6,85.3 373.2,84.1 375.7,81.5 377.6,82.2 379.5,84.7" fill="none" stroke="#2222d6" stroke-width="0.85" stroke-linejoin="round"/>
<polyline points="244.9,98.3 245.6,102.0 246.3,104.0 247.2,101.5 248.2,98.3 248.8,98.4 249.5,97.5 250.2,97.1 250.9,94.9 251.6,94.5 252.2,92.6 252.9,92.5 253.5,90.7 254.2,92.1 255.0,92.2 255.6,92.8 256.2,92.6 256.8,93.4 257.4,93.9 258.1,96.3 258.7,96.9 259.4,98.2 260.1,98.0 260.9,99.4 261.6,99.7 262.5,99.2 263.3,98.0 263.9,98.2 264.6,96.9 265.2,97.3 265.9,96.8 266.5,97.3 267.1,96.7 267.8,97.9 268.4,97.4 269.0,97.6 269.6,96.5 270.3,97.0 270.9,96.1 271.5,95.9 272.2,94.6 272.9,95.0 273.5,94.2 274.1,93.2 274.8,91.0 275.4,90.4 276.0,88.9 276.7,88.1 277.3,88.3 278.0,89.9 278.6,89.8 279.2,90.6 279.9,89.8 280.5,90.4 281.1,89.1 281.7,89.2 282.5,91.6 283.4,94.9 284.1,94.0 284.9,94.2 285.5,92.8 286.2,92.8 286.8,91.1 287.4,92.2 288.1,91.6 288.7,92.9 289.3,92.9 290.0,94.6 290.6,94.9 291.2,93.7 291.9,91.7 292.5,90.9 293.2,89.3 293.8,88.5 294.4,87.6 295.1,87.6 295.7,86.6 296.4,86.8 297.0,86.0 297.6,84.0 298.3,81.5 298.9,83.9 299.5,85.3 300.1,85.1 300.8,84.1 301.5,86.4 302.1,87.9 302.7,87.8 303.3,86.6 304.0,88.9 304.6,90.4 305.2,93.3 305.9,95.5 306.5,97.4 307.2,98.0 307.8,100.0 308.4,101.3 309.0,103.1 309.6,101.5 310.3,101.2 310.9,100.3 311.6,100.5 312.2,99.3 312.9,100.6 313.5,100.6 314.1,99.2 314.8,97.4 315.4,98.2 316.1,97.4 316.7,98.0 317.3,95.8 318.0,94.9 318.6,93.0 319.2,92.4 319.9,91.0 320.5,90.4 321.1,89.5 321.8,90.3 322.4,89.8 323.0,91.0 323.7,90.4 324.3,91.7 325.0,91.7 325.6,93.0 326.2,91.7 326.8,91.1 327.5,92.9 328.1,95.5 328.7,94.2 329.4,94.4 330.0,93.0 330.6,93.3 331.3,93.0 332.3,90.4 333.2,94.2 333.8,96.1 334.4,96.8 335.0,97.8 335.7,97.0 336.3,98.0 337.0,98.8 337.6,100.8 338.3,101.2 338.9,103.1 339.5,104.4 340.1,105.2 340.8,104.8 341.4,105.7 342.0,105.7 342.7,107.3 343.3,107.6 343.9,108.9 344.6,108.4 345.2,109.5 346.0,106.6 346.8,104.4 347.6,105.3 348.4,106.9 349.0,105.0 349.7,103.8 350.3,103.1 351.0,103.2 351.6,102.5 352.2,103.7 352.9,103.1 353.5,104.4 354.1,102.9 354.8,101.9 355.4,100.8 356.1,100.8 356.7,99.3 357.3,100.6 358.0,100.6 358.6,101.9 359.2,102.4 359.9,104.1 360.5,104.4 361.1,104.4 361.8,102.7 362.4,102.5 363.0,102.9 363.7,104.4 364.3,105.0 364.9,106.6 365.6,106.7 366.2,108.3 366.8,108.8 367.4,109.0 368.1,107.7 368.7,107.6 369.3,107.2 370.0,108.7 370.6,108.2 371.2,108.5 371.9,107.2 372.5,107.6 373.1,106.7 373.8,106.8 374.4,105.7 375.0,105.6 375.7,104.2 376.3,104.4 377.0,103.2 377.6,103.2 378.3,101.9 378.9,101.0 379.5,98.7" fill="none" stroke="#111111" stroke-width="0.75" stroke-linejoin="round"/>
<rect x="244.80" y="79.80" width="135.00" height="32.10" fill="none" stroke="#777777" stroke-width="0.7"/>
<line x1="243.60" y1="84.10" x2="244.80" y2="84.10" stroke="#777777" stroke-width="0.5"/>
<text x="243.00" y="86.00" font-size="4.15" fill="#000" stroke="#000" stroke-width="0.04" text-anchor="end" >1</text>
<line x1="243.60" y1="97.60" x2="244.80" y2="97.60" stroke="#777777" stroke-width="0.5"/>
<text x="243.00" y="99.00" font-size="4.15" fill="#000" stroke="#000" stroke-width="0.04" text-anchor="end" >0</text>
<line x1="243.60" y1="111.60" x2="244.80" y2="111.60" stroke="#777777" stroke-width="0.5"/>
<text x="243.00" y="113.00" font-size="4.15" fill="#000" stroke="#000" stroke-width="0.04" text-anchor="end" >−1</text>
<line x1="379.80" y1="83.60" x2="381.00" y2="83.60" stroke="#5050d0" stroke-width="0.5"/>
<text x="381.60" y="85.00" font-size="4.15" fill="#2a2ad8" stroke="#2a2ad8" stroke-width="0.04" text-anchor="start" >0</text>
<line x1="379.80" y1="98.20" x2="381.00" y2="98.20" stroke="#5050d0" stroke-width="0.5"/>
<text x="381.60" y="100.00" font-size="4.15" fill="#2a2ad8" stroke="#2a2ad8" stroke-width="0.04" text-anchor="start" >−50</text>
<line x1="244.80" y1="111.90" x2="244.80" y2="112.90" stroke="#777777" stroke-width="0.5"/>
<line x1="271.80" y1="111.90" x2="271.80" y2="112.90" stroke="#777777" stroke-width="0.5"/>
<line x1="298.80" y1="111.90" x2="298.80" y2="112.90" stroke="#777777" stroke-width="0.5"/>
<line x1="325.80" y1="111.90" x2="325.80" y2="112.90" stroke="#777777" stroke-width="0.5"/>
<line x1="352.80" y1="111.90" x2="352.80" y2="112.90" stroke="#777777" stroke-width="0.5"/>
<line x1="379.80" y1="111.90" x2="379.80" y2="112.90" stroke="#777777" stroke-width="0.5"/>
<text x="250.20" y="109.00" font-size="3.5" fill="#ee0000" stroke="#ee0000" stroke-width="0.04" text-anchor="start" >INVK</text>
<text x="244.80" y="118.00" font-size="4.15" fill="#000" stroke="#000" stroke-width="0.04" text-anchor="middle" >Feb 16</text>
<text x="271.80" y="118.00" font-size="4.15" fill="#000" stroke="#000" stroke-width="0.04" text-anchor="middle" >Feb 17</text>
<text x="298.80" y="118.00" font-size="4.15" fill="#000" stroke="#000" stroke-width="0.04" text-anchor="middle" >Feb 18</text>
<text x="325.80" y="118.00" font-size="4.15" fill="#000" stroke="#000" stroke-width="0.04" text-anchor="middle" >Feb 19</text>
<text x="352.80" y="118.00" font-size="4.15" fill="#000" stroke="#000" stroke-width="0.04" text-anchor="middle" >Feb 20</text>
<text x="379.80" y="118.00" font-size="4.15" fill="#000" stroke="#000" stroke-width="0.04" text-anchor="middle" >Feb 21</text>
<text x="313.30" y="5.00" font-size="4.25" fill="#000" stroke="#000" stroke-width="0.04" text-anchor="middle" >(b) 16-20 February 2020</text>
<text x="312.30" y="123.00" font-size="4.15" fill="#000" stroke="#000" stroke-width="0.04" text-anchor="middle" >Days</text>
<text x="0" y="0" transform="translate(232.80,59.40) rotate(-90)" font-size="4.2330000000000005" fill="#000" stroke="#000" stroke-width="0.04" text-anchor="middle" dominant-baseline="central" >Relative Counts</text>
<text x="0" y="0" transform="translate(392.80,59.40) rotate(-90)" font-size="4.2330000000000005" fill="#2a2ad8" stroke="#2a2ad8" stroke-width="0.04" text-anchor="middle" dominant-baseline="central" >dH (nT)</text>
<line x1="191.30" y1="143.70" x2="191.30" y2="173.30" stroke="#d8d8d8" stroke-width="0.5"/>
<line x1="215.90" y1="143.70" x2="215.90" y2="173.30" stroke="#d8d8d8" stroke-width="0.5"/>
<line x1="240.50" y1="143.70" x2="240.50" y2="173.30" stroke="#d8d8d8" stroke-width="0.5"/>
<line x1="265.10" y1="143.70" x2="265.10" y2="173.30" stroke="#d8d8d8" stroke-width="0.5"/>
<line x1="166.70" y1="151.70" x2="289.70" y2="151.70" stroke="#d8d8d8" stroke-width="0.5"/>
<line x1="166.70" y1="162.60" x2="289.70" y2="162.60" stroke="#d8d8d8" stroke-width="0.5"/>
<polyline points="166.9,150.9 170.1,150.3 173.3,149.6 175.2,147.1 176.7,145.8 178.3,147.7 180.2,152.0 182.2,155.3 184.0,153.0 186.0,151.5 189.1,150.9 192.3,149.9 195.5,149.0 198.0,147.7 199.5,145.8 200.8,144.5 202.5,146.4 204.4,148.3 206.3,150.9 208.2,150.3 210.1,152.2 211.3,154.7 212.5,156.6 214.4,154.7 217.0,153.4 218.9,150.9 220.2,149.0 221.2,150.9 222.1,157.2 223.3,164.9 225.0,171.8 226.5,168.7 227.8,166.8 229.0,168.7 230.3,164.9 231.3,161.0 232.2,162.3 233.5,165.5 234.8,161.7 236.7,161.0 239.2,159.8 241.7,157.9 244.9,156.6 248.1,155.3 250.0,154.7 252.1,157.2 254.6,159.8 256.5,162.3 259.0,160.4 261.6,158.5 263.5,156.0 265.4,155.3 267.3,153.4 269.2,154.7 271.7,154.1 274.3,152.4 276.8,155.3 279.4,158.5 281.9,156.0 284.4,154.7 287.0,154.4 289.5,154.1" fill="none" stroke="#2222d6" stroke-width="0.85" stroke-linejoin="round"/>
<polyline points="166.9,165.5 168.8,165.5 170.7,162.3 172.6,158.5 173.9,159.1 175.2,158.5 176.4,160.4 177.7,159.8 178.7,161.0 179.6,165.5 180.9,163.8 181.7,164.6 184.1,166.5 186.0,167.6 187.9,165.7 189.3,167.1 191.2,165.2 194.1,163.3 196.5,168.4 197.8,161.0 198.7,154.1 199.5,153.4 200.6,159.8 202.5,161.0 204.4,162.3 205.6,164.9 207.5,168.0 209.4,170.6 210.7,168.7 212.0,171.2 213.2,168.0 215.1,166.8 217.0,162.3 218.9,157.2 220.2,152.8 221.4,149.0 222.7,145.2 224.0,149.0 225.2,153.4 227.1,154.7 229.0,156.0 231.0,156.6 232.9,157.9 234.1,159.8 235.4,163.0 237.3,162.3 239.5,159.8 241.1,163.6 243.0,162.3 244.9,163.6 246.8,161.0 248.7,162.3 250.6,160.4 252.5,161.7 254.4,160.8 256.3,163.0 258.3,164.2 260.3,166.1 262.2,167.4 264.1,166.8 266.0,167.4 267.9,165.5 269.8,164.9 271.7,162.3 273.7,163.6 275.6,161.7 277.5,161.0 279.4,163.0 281.3,164.2 283.2,165.5 285.1,166.8 287.0,168.0 288.3,166.1 289.5,166.1" fill="none" stroke="#111111" stroke-width="0.75" stroke-linejoin="round"/>
<rect x="166.70" y="143.70" width="123.00" height="29.60" fill="none" stroke="#777777" stroke-width="0.7"/>
<line x1="165.50" y1="151.70" x2="166.70" y2="151.70" stroke="#777777" stroke-width="0.5"/>
<text x="164.90" y="153.00" font-size="3.85" fill="#000" stroke="#000" stroke-width="0.04" text-anchor="end" >2</text>
<line x1="165.50" y1="162.60" x2="166.70" y2="162.60" stroke="#777777" stroke-width="0.5"/>
<text x="164.90" y="164.00" font-size="3.85" fill="#000" stroke="#000" stroke-width="0.04" text-anchor="end" >0</text>
<line x1="289.70" y1="152.10" x2="290.90" y2="152.10" stroke="#5050d0" stroke-width="0.5"/>
<text x="291.50" y="154.00" font-size="3.85" fill="#2a2ad8" stroke="#2a2ad8" stroke-width="0.04" text-anchor="start" >0</text>
<line x1="289.70" y1="166.40" x2="290.90" y2="166.40" stroke="#5050d0" stroke-width="0.5"/>
<text x="291.50" y="168.00" font-size="3.85" fill="#2a2ad8" stroke="#2a2ad8" stroke-width="0.04" text-anchor="start" >−100</text>
<line x1="166.70" y1="173.30" x2="166.70" y2="174.30" stroke="#777777" stroke-width="0.5"/>
<line x1="191.30" y1="173.30" x2="191.30" y2="174.30" stroke="#777777" stroke-width="0.5"/>
<line x1="215.90" y1="173.30" x2="215.90" y2="174.30" stroke="#777777" stroke-width="0.5"/>
<line x1="240.50" y1="173.30" x2="240.50" y2="174.30" stroke="#777777" stroke-width="0.5"/>
<line x1="265.10" y1="173.30" x2="265.10" y2="174.30" stroke="#777777" stroke-width="0.5"/>
<line x1="289.70" y1="173.30" x2="289.70" y2="174.30" stroke="#777777" stroke-width="0.5"/>
<text x="171.80" y="171.00" font-size="3.1" fill="#ee0000" stroke="#ee0000" stroke-width="0.04" text-anchor="start" >HRMS</text>
<line x1="191.30" y1="177.70" x2="191.30" y2="207.00" stroke="#d8d8d8" stroke-width="0.5"/>
<line x1="215.90" y1="177.70" x2="215.90" y2="207.00" stroke="#d8d8d8" stroke-width="0.5"/>
<line x1="240.50" y1="177.70" x2="240.50" y2="207.00" stroke="#d8d8d8" stroke-width="0.5"/>
<line x1="265.10" y1="177.70" x2="265.10" y2="207.00" stroke="#d8d8d8" stroke-width="0.5"/>
<line x1="166.70" y1="180.10" x2="289.70" y2="180.10" stroke="#d8d8d8" stroke-width="0.5"/>
<line x1="166.70" y1="192.20" x2="289.70" y2="192.20" stroke="#d8d8d8" stroke-width="0.5"/>
<line x1="166.70" y1="204.40" x2="289.70" y2="204.40" stroke="#d8d8d8" stroke-width="0.5"/>
<polyline points="166.9,184.3 168.8,185.1 171.3,184.9 173.3,183.0 175.2,180.8 177.7,180.4 179.6,181.3 180.9,183.0 182.8,184.3 185.3,183.0 187.9,182.6 190.4,183.0 192.9,184.3 194.8,185.5 196.7,183.6 198.7,180.4 200.6,178.5 202.5,179.6 205.6,179.8 208.8,180.8 210.7,183.0 212.6,184.9 214.5,183.6 215.8,184.9 216.5,187.0 217.6,190.6 219.1,198.2 220.8,203.9 222.1,205.8 223.7,201.4 225.2,199.5 227.1,198.9 228.4,196.3 229.7,193.8 231.0,190.6 232.2,190.0 234.1,189.3 236.0,188.7 237.3,188.1 239.2,190.0 241.1,191.9 243.2,193.8 245.1,192.5 247.0,191.2 248.9,190.0 251.4,188.1 254.0,187.4 255.9,186.8 257.1,188.1 258.4,184.3 259.7,188.1 261.6,188.1 264.1,188.7 266.7,190.0 268.6,191.2 270.5,190.0 272.4,187.4 274.3,185.9 276.2,186.8 278.1,186.2 280.0,188.1 281.9,186.2 284.4,185.5 287.0,185.5 289.5,186.2" fill="none" stroke="#2222d6" stroke-width="0.85" stroke-linejoin="round"/>
<polyline points="166.9,187.4 168.8,189.3 170.7,191.2 172.6,192.5 174.1,191.2 175.8,195.7 177.7,195.0 179.0,195.7 180.2,198.2 182.1,194.4 184.0,193.1 186.0,195.0 187.9,194.4 189.8,195.0 192.3,193.1 194.2,191.2 196.1,193.8 198.0,191.9 199.9,195.0 201.8,197.0 203.1,194.4 204.4,197.6 205.6,203.3 207.5,205.8 209.4,205.2 210.7,200.1 211.5,197.6 213.2,195.7 215.1,193.8 217.0,190.0 218.9,184.9 220.8,180.4 222.3,177.9 224.0,181.1 225.9,184.3 227.8,186.2 229.7,188.1 231.0,190.6 232.2,188.7 234.1,190.6 236.0,190.0 237.9,188.7 240.0,190.0 241.9,190.6 243.8,191.9 245.7,191.2 247.6,190.0 249.5,188.1 251.4,188.7 253.3,190.6 255.2,191.9 257.8,192.5 259.7,195.0 261.6,193.1 263.5,195.0 265.4,191.9 267.3,190.0 269.2,186.8 271.1,189.3 273.0,191.2 274.9,194.4 276.8,191.9 278.7,193.1 280.6,191.9 282.5,193.8 284.4,194.4 286.3,192.5 288.3,191.2 289.5,191.0" fill="none" stroke="#111111" stroke-width="0.75" stroke-linejoin="round"/>
<rect x="166.70" y="177.70" width="123.00" height="29.30" fill="none" stroke="#777777" stroke-width="0.7"/>
<line x1="165.50" y1="180.10" x2="166.70" y2="180.10" stroke="#777777" stroke-width="0.5"/>
<text x="164.90" y="182.00" font-size="3.85" fill="#000" stroke="#000" stroke-width="0.04" text-anchor="end" >2</text>
<line x1="165.50" y1="192.20" x2="166.70" y2="192.20" stroke="#777777" stroke-width="0.5"/>
<text x="164.90" y="194.00" font-size="3.85" fill="#000" stroke="#000" stroke-width="0.04" text-anchor="end" >0</text>
<line x1="165.50" y1="204.40" x2="166.70" y2="204.40" stroke="#777777" stroke-width="0.5"/>
<text x="164.90" y="206.00" font-size="3.85" fill="#000" stroke="#000" stroke-width="0.04" text-anchor="end" >−2</text>
<line x1="289.70" y1="183.20" x2="290.90" y2="183.20" stroke="#5050d0" stroke-width="0.5"/>
<text x="291.50" y="185.00" font-size="3.85" fill="#2a2ad8" stroke="#2a2ad8" stroke-width="0.04" text-anchor="start" >0</text>
<line x1="289.70" y1="197.80" x2="290.90" y2="197.80" stroke="#5050d0" stroke-width="0.5"/>
<text x="291.50" y="200.00" font-size="3.85" fill="#2a2ad8" stroke="#2a2ad8" stroke-width="0.04" text-anchor="start" >−100</text>
<line x1="166.70" y1="207.00" x2="166.70" y2="208.00" stroke="#777777" stroke-width="0.5"/>
<line x1="191.30" y1="207.00" x2="191.30" y2="208.00" stroke="#777777" stroke-width="0.5"/>
<line x1="215.90" y1="207.00" x2="215.90" y2="208.00" stroke="#777777" stroke-width="0.5"/>
<line x1="240.50" y1="207.00" x2="240.50" y2="208.00" stroke="#777777" stroke-width="0.5"/>
<line x1="265.10" y1="207.00" x2="265.10" y2="208.00" stroke="#777777" stroke-width="0.5"/>
<line x1="289.70" y1="207.00" x2="289.70" y2="208.00" stroke="#777777" stroke-width="0.5"/>
<text x="171.80" y="203.00" font-size="3.1" fill="#ee0000" stroke="#ee0000" stroke-width="0.04" text-anchor="start" >IRKT</text>
<line x1="191.30" y1="211.40" x2="191.30" y2="241.00" stroke="#d8d8d8" stroke-width="0.5"/>
<line x1="215.90" y1="211.40" x2="215.90" y2="241.00" stroke="#d8d8d8" stroke-width="0.5"/>
<line x1="240.50" y1="211.40" x2="240.50" y2="241.00" stroke="#d8d8d8" stroke-width="0.5"/>
<line x1="265.10" y1="211.40" x2="265.10" y2="241.00" stroke="#d8d8d8" stroke-width="0.5"/>
<line x1="166.70" y1="218.00" x2="289.70" y2="218.00" stroke="#d8d8d8" stroke-width="0.5"/>
<line x1="166.70" y1="232.00" x2="289.70" y2="232.00" stroke="#d8d8d8" stroke-width="0.5"/>
<polyline points="166.9,218.3 168.2,219.5 170.1,217.0 172.6,215.1 175.2,213.2 177.1,213.8 179.6,213.8 181.5,215.7 183.4,217.0 186.0,217.0 188.5,217.6 191.0,218.3 192.9,219.1 195.5,217.0 198.0,214.4 200.6,212.3 203.1,213.6 205.6,213.8 207.5,214.4 209.4,217.0 211.3,220.8 213.0,224.0 214.5,221.4 215.8,222.7 217.6,226.5 219.5,232.2 221.2,237.3 222.4,239.2 224.0,236.7 225.9,235.4 227.8,232.9 229.7,227.8 231.6,225.9 233.5,225.2 235.4,221.4 236.7,225.2 237.7,227.8 239.2,222.7 240.0,223.3 241.9,224.0 244.4,225.2 246.3,222.7 248.3,220.2 250.2,221.4 252.1,219.5 254.0,218.3 255.2,221.4 256.3,226.5 257.1,220.8 258.4,223.3 260.3,220.2 262.2,220.8 264.1,222.1 266.0,222.7 267.9,221.4 270.5,220.2 273.0,218.3 274.9,219.5 276.8,217.6 278.7,218.9 280.6,220.2 283.2,218.9 285.7,219.1 287.6,219.9 289.5,221.4" fill="none" stroke="#2222d6" stroke-width="0.85" stroke-linejoin="round"/>
<polyline points="166.9,213.8 168.8,215.1 170.7,217.0 172.0,220.2 173.3,223.3 174.5,225.2 176.4,224.6 178.3,225.9 180.2,225.2 182.8,226.5 185.3,225.2 187.2,226.5 189.8,224.0 191.7,222.1 193.6,222.7 195.5,224.6 197.4,225.9 199.3,225.2 201.2,225.9 202.5,226.5 203.7,232.9 205.0,237.9 206.3,239.2 208.2,237.9 210.1,238.5 211.9,234.8 213.8,232.2 215.1,225.2 215.7,217.6 217.0,212.5 218.9,215.1 220.8,220.2 222.7,226.5 224.0,231.6 225.2,234.8 226.5,234.1 228.4,230.3 230.3,229.0 232.2,233.5 233.5,231.0 234.8,230.3 236.7,231.6 238.6,230.3 240.5,229.7 241.9,229.7 243.8,230.3 245.7,229.0 247.6,229.7 249.5,228.8 251.4,230.3 253.3,231.6 255.2,232.9 257.1,233.5 257.8,234.8 259.7,232.2 262.2,231.0 264.1,230.3 266.0,229.7 267.9,227.8 269.8,228.4 271.7,229.0 273.7,230.3 276.2,231.3 278.1,230.3 280.0,229.0 281.9,228.4 283.8,229.7 285.7,229.0 287.6,228.8 289.5,228.4" fill="none" stroke="#111111" stroke-width="0.75" stroke-linejoin="round"/>
<rect x="166.70" y="211.40" width="123.00" height="29.60" fill="none" stroke="#777777" stroke-width="0.7"/>
<line x1="165.50" y1="215.00" x2="166.70" y2="215.00" stroke="#777777" stroke-width="0.5"/>
<text x="164.90" y="217.00" font-size="3.85" fill="#000" stroke="#000" stroke-width="0.04" text-anchor="end" >2</text>
<line x1="165.50" y1="228.30" x2="166.70" y2="228.30" stroke="#777777" stroke-width="0.5"/>
<text x="164.90" y="230.00" font-size="3.85" fill="#000" stroke="#000" stroke-width="0.04" text-anchor="end" >0</text>
<line x1="289.70" y1="218.00" x2="290.90" y2="218.00" stroke="#5050d0" stroke-width="0.5"/>
<text x="291.50" y="220.00" font-size="3.85" fill="#2a2ad8" stroke="#2a2ad8" stroke-width="0.04" text-anchor="start" >0</text>
<line x1="289.70" y1="232.00" x2="290.90" y2="232.00" stroke="#5050d0" stroke-width="0.5"/>
<text x="291.50" y="234.00" font-size="3.85" fill="#2a2ad8" stroke="#2a2ad8" stroke-width="0.04" text-anchor="start" >−100</text>
<line x1="166.70" y1="241.00" x2="166.70" y2="242.00" stroke="#777777" stroke-width="0.5"/>
<line x1="191.30" y1="241.00" x2="191.30" y2="242.00" stroke="#777777" stroke-width="0.5"/>
<line x1="215.90" y1="241.00" x2="215.90" y2="242.00" stroke="#777777" stroke-width="0.5"/>
<line x1="240.50" y1="241.00" x2="240.50" y2="242.00" stroke="#777777" stroke-width="0.5"/>
<line x1="265.10" y1="241.00" x2="265.10" y2="242.00" stroke="#777777" stroke-width="0.5"/>
<line x1="289.70" y1="241.00" x2="289.70" y2="242.00" stroke="#777777" stroke-width="0.5"/>
<text x="171.80" y="238.00" font-size="3.1" fill="#ee0000" stroke="#ee0000" stroke-width="0.04" text-anchor="start" >INVK</text>
<text x="166.70" y="246.00" font-size="3.85" fill="#000" stroke="#000" stroke-width="0.04" text-anchor="middle" >Aug 24</text>
<text x="191.30" y="246.00" font-size="3.85" fill="#000" stroke="#000" stroke-width="0.04" text-anchor="middle" >Aug 25</text>
<text x="215.90" y="246.00" font-size="3.85" fill="#000" stroke="#000" stroke-width="0.04" text-anchor="middle" >Aug 26</text>
<text x="240.50" y="246.00" font-size="3.85" fill="#000" stroke="#000" stroke-width="0.04" text-anchor="middle" >Aug 27</text>
<text x="265.10" y="246.00" font-size="3.85" fill="#000" stroke="#000" stroke-width="0.04" text-anchor="middle" >Aug 28</text>
<text x="289.70" y="246.00" font-size="3.85" fill="#000" stroke="#000" stroke-width="0.04" text-anchor="middle" >Aug 29</text>
<text x="228.70" y="142.00" font-size="3.9" fill="#000" stroke="#000" stroke-width="0.04" text-anchor="middle" >(c) 24-28 August 2018</text>
<text x="228.20" y="251.00" font-size="3.85" fill="#000" stroke="#000" stroke-width="0.04" text-anchor="middle" >Days</text>
<text x="0" y="0" transform="translate(155.90,192.35) rotate(-90)" font-size="3.927" fill="#000" stroke="#000" stroke-width="0.04" text-anchor="middle" dominant-baseline="central" >Relative Counts</text>
<text x="0" y="0" transform="translate(304.50,192.35) rotate(-90)" font-size="3.927" fill="#2a2ad8" stroke="#2a2ad8" stroke-width="0.04" text-anchor="middle" dominant-baseline="central" >dH (nT)</text></svg></body></html>
